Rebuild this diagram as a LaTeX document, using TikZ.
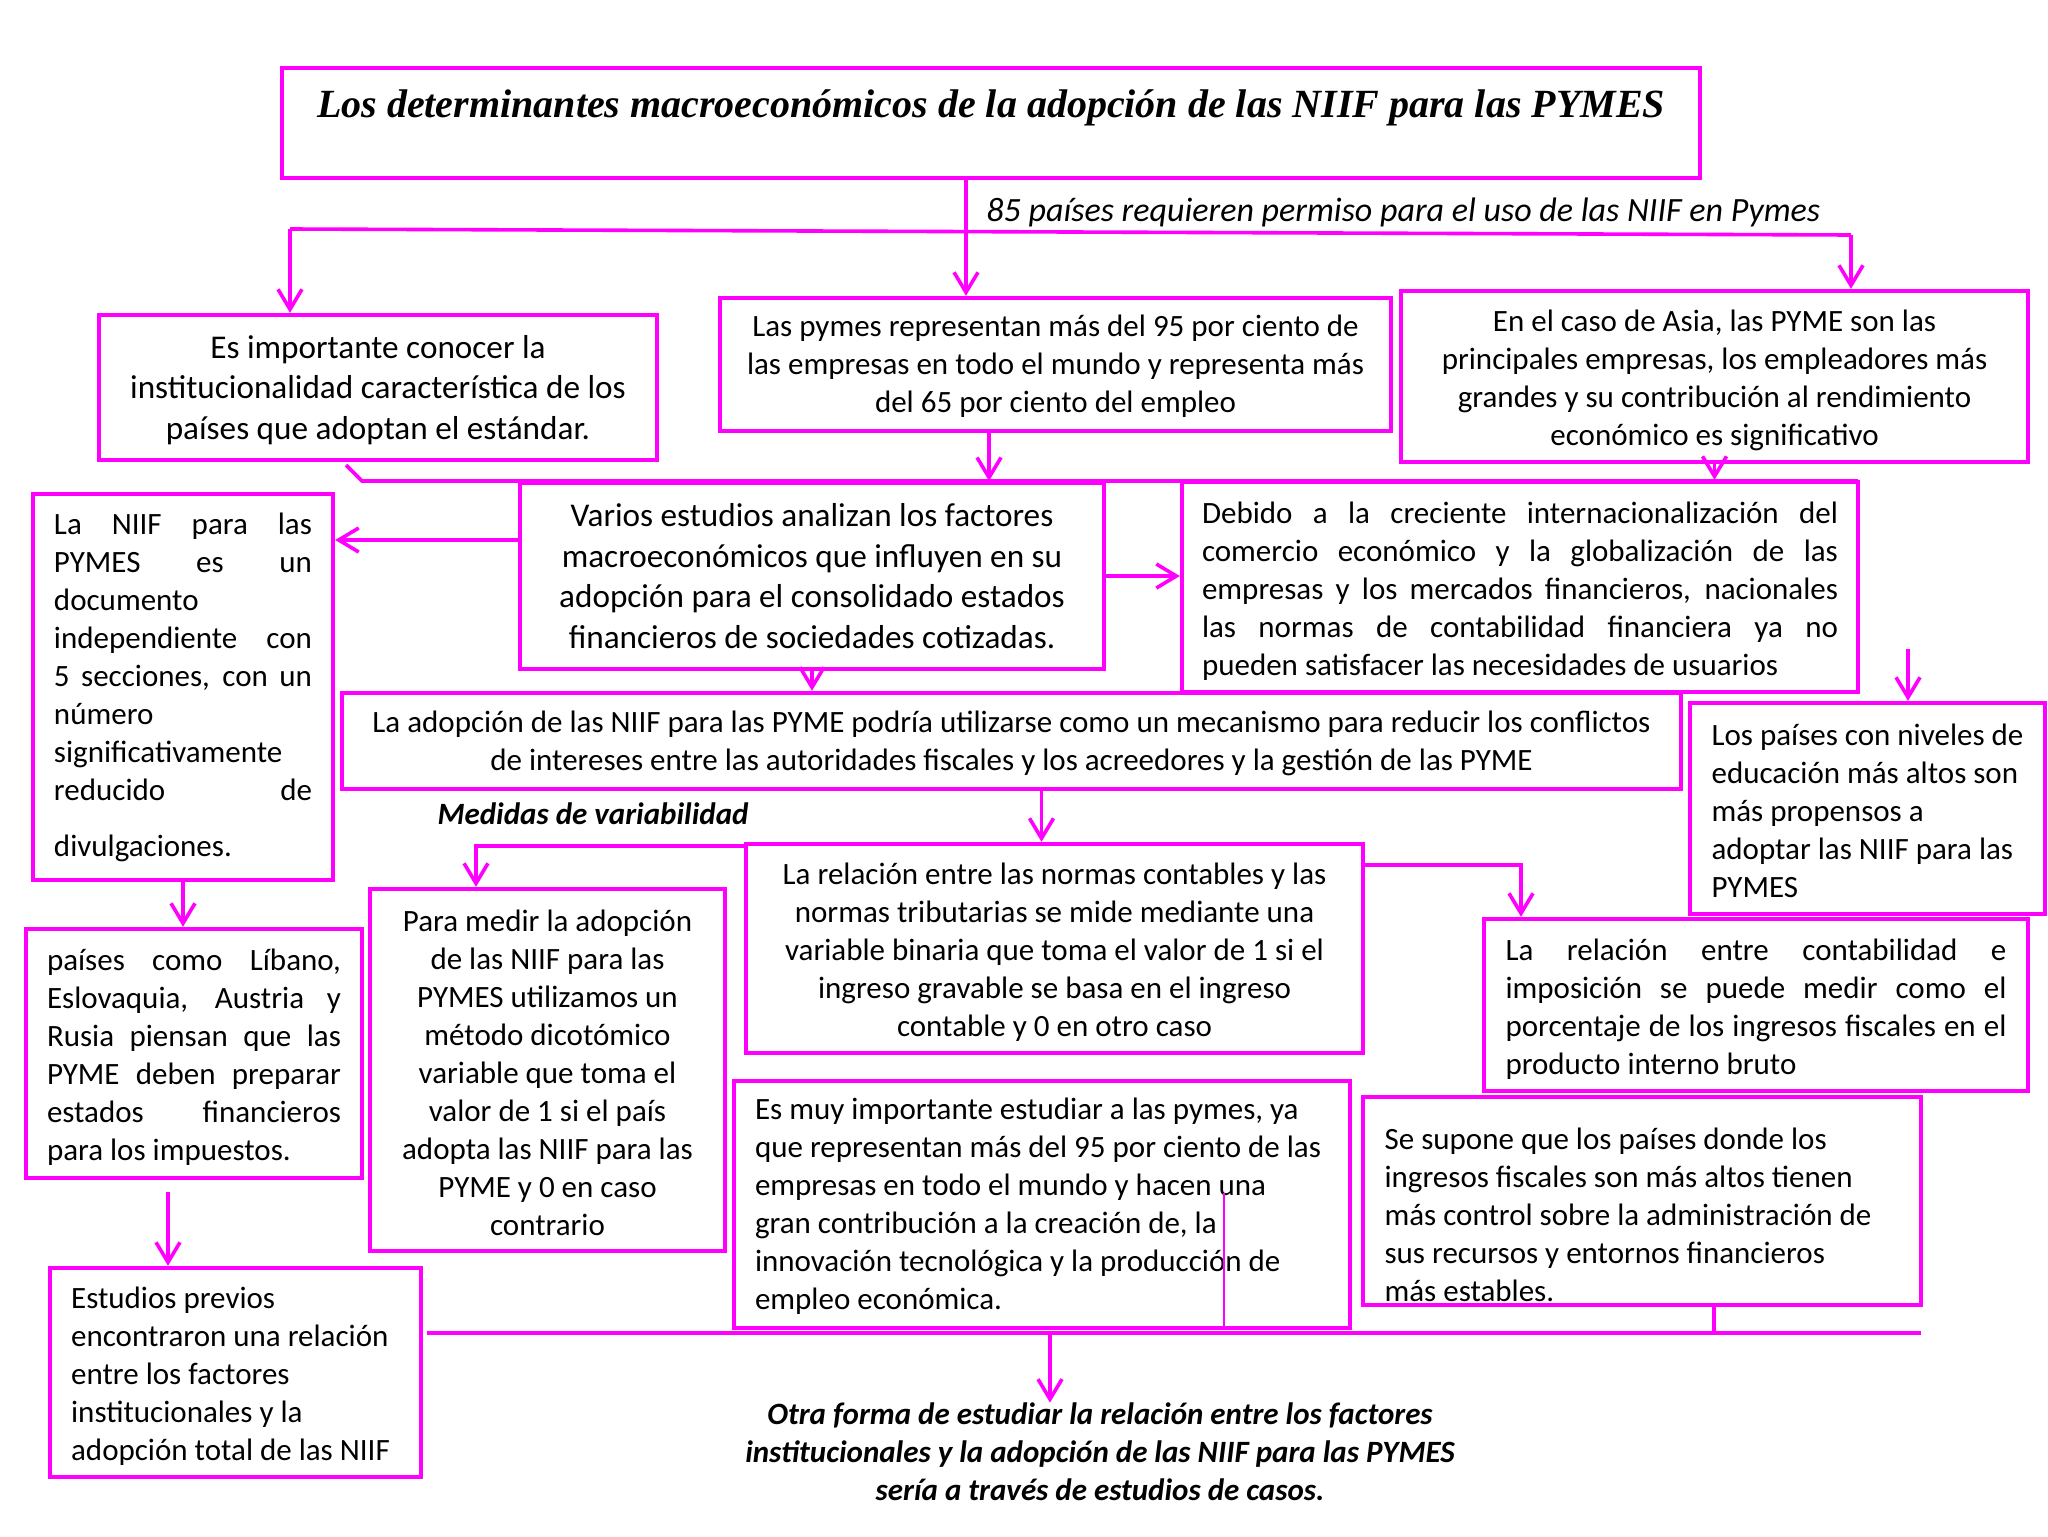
\documentclass[tikz,border=0pt]{standalone}
\usepackage{fontspec}
\setmainfont{Carlito}
\newfontfamily\timesf{Liberation Serif}
\usetikzlibrary{arrows.meta}
\definecolor{mag}{RGB}{255,0,255}
\newcommand\jl[2]{\hbox to #1{#2}}
\setlength{\parindent}{0pt}
\begin{document}
\begin{tikzpicture}[x=0.5pt,y=-0.5pt,
  box/.style={draw=mag, line width=2.2pt, inner sep=0pt, font=\fontsize{15.5}{19}\selectfont, align=center},
  bigbox/.style={box, font=\fontsize{16.6}{20.2}\selectfont},
  lbox/.style={box, align=left},
  conn/.style={draw=mag, line width=1.8pt},
  arr/.style={conn, -{Straight Barb[length=10pt,width=12pt]}},
  thinline/.style={draw=mag, line width=1.2pt},
  txt/.style={inner sep=0pt, font=\fontsize{15.5}{19}\selectfont, align=center},
]
\useasboundingbox (0,0) rectangle (2048,1536);
\fill[white] (0,0) rectangle (2048,1536);

% ---------- boxes ----------
\node[box, minimum width=709pt, minimum height=55pt] (title) at (991,123) {};
\node[inner sep=0pt, font=\timesf\bfseries\itshape\fontsize{20}{24}\selectfont] (titletxt) at (991,108)
  {Los determinantes macroeconómicos de la adopción de las NIIF para las PYMES};

\node[bigbox, minimum width=279pt, minimum height=72.5pt] (b1) at (378,387.5)
  {\rule{0pt}{14pt}Es importante conocer la\\ institucionalidad característica de los\\ países que adoptan el estándar.};

\node[box, minimum width=335.5pt, minimum height=66.5pt] (b2) at (1055.5,364.5)
  {\rule{0pt}{12.5pt}Las pymes representan más del 95 por ciento de\\ las empresas en todo el mundo y representa más\\ del 65 por ciento del empleo};

\node[box, minimum width=313.5pt, minimum height=85.5pt] (b3) at (1714.5,376.5)
  {\rule{0pt}{15pt}En el caso de Asia, las PYME son las\\ principales empresas, los empleadores más\\ grandes y su contribución al rendimiento\\ económico es significativo};

\node[lbox, minimum width=150pt, minimum height=193pt] (niif) at (183,687)
  {\jl{129pt}{La\hfil NIIF\hfil para\hfil las}\\
   \jl{129pt}{PYMES\hfil es\hfil un}\\
   documento\\
   \jl{129pt}{independiente\hfil con}\\
   \jl{129pt}{5 secciones, con un}\\
   número\\
   significativamente\\
   \jl{129pt}{reducido\hfil de}\\[9pt]
   divulgaciones.};

\node[bigbox, minimum width=292pt, minimum height=93pt] (varios) at (812,576)
  {Varios estudios analizan los factores\\ macroeconómicos que influyen en su\\ adopción para el consolidado estados\\ financieros de sociedades cotizadas.};

\node[lbox, minimum width=338pt, minimum height=105pt] (debido) at (1520,587)
  {\rule{0pt}{15pt}\jl{318pt}{Debido a la creciente internacionalización del}\\
   \jl{318pt}{comercio económico y la globalización de las}\\
   \jl{318pt}{empresas y los mercados financieros, nacionales}\\
   \jl{318pt}{las normas de contabilidad financiera ya no}\\
   pueden satisfacer las necesidades de usuarios};

\node[box, minimum width=669.5pt, minimum height=48pt] (adop) at (1011.5,741)
  {\rule{0pt}{13pt}La adopción de las NIIF para las PYME podría utilizarse como un mecanismo para reducir los conflictos\\
   de intereses entre las autoridades fiscales y los acreedores y la gestión de las PYME};

\node[lbox, minimum width=177.5pt, minimum height=105.5pt] (edu) at (1867.5,808.5)
  {\rule{0pt}{13.5pt}Los países con niveles de\\ educación más altos son\\ más propensos a\\ adoptar las NIIF para las\\ PYMES};

\node[lbox, minimum width=168pt, minimum height=124.5pt] (libano) at (194,1053.5)
  {\rule{0pt}{14pt}\jl{147pt}{países como Líbano,}\\
   \jl{147pt}{Eslovaquia, Austria y}\\
   \jl{147pt}{Rusia piensan que las}\\
   \jl{147pt}{PYME deben preparar}\\
   \jl{147pt}{estados\hfil financieros}\\
   para los impuestos.};

\node[box, minimum width=177.5pt, minimum height=181pt] (medir) at (547.5,1070)
  {\rule{0pt}{13.5pt}Para medir la adopción\\ de las NIIF para las\\ PYMES utilizamos un\\ método dicotómico\\ variable que toma el\\ valor de 1 si el país\\ adopta las NIIF para las\\ PYME y 0 en caso\\ contrario};

\node[box, minimum width=308.5pt, minimum height=104.5pt] (normas) at (1054.5,948.5)
  {\rule{0pt}{14pt}La relación entre las normas contables y las\\ normas tributarias se mide mediante una\\ variable binaria que toma el valor de 1 si el\\ ingreso gravable se basa en el ingreso\\ contable y 0 en otro caso};

\node[lbox, minimum width=272pt, minimum height=86pt] (contab) at (1756,1005)
  {\rule{0pt}{15pt}\jl{250.5pt}{La relación entre contabilidad e}\\
   \jl{250.5pt}{imposición se puede medir como el}\\
   \jl{250.5pt}{porcentaje de los ingresos fiscales en el}\\
   producto interno bruto};

\node[lbox, minimum width=308pt, minimum height=123.5pt] (esmuy) at (1042,1204.5)
  {\rule{0pt}{12.5pt}Es muy importante estudiar a las pymes, ya\\ que representan más del 95 por ciento de las\rule{4pt}{0pt}\\ empresas en todo el mundo y hacen una\\ gran contribución a la creación de, la\\ innovación tecnológica y la producción de\\ empleo económica.};

\node[lbox, minimum width=279pt, minimum height=104pt] (supone) at (1642,1201)
  {\rule{0pt}{25pt}Se supone que los países donde los\\ ingresos fiscales son más altos tienen\\ más control sobre la administración de\rule{14pt}{0pt}\\ sus recursos y entornos financieros\\ más estables.};

\node[lbox, minimum width=185.5pt, minimum height=104.5pt] (estudios) at (235.5,1372.5)
  {\rule{0pt}{14pt}Estudios previos\\ encontraron una relación\rule{5pt}{0pt}\\ entre los factores\\ institucionales y la\\ adopción total de las NIIF\rule{5pt}{0pt}};

% ---------- free texts ----------
\node[txt, font=\itshape\fontsize{17}{20}\selectfont, anchor=west] (lab85) at (986,212)
  {85 países requieren permiso para el uso de las NIIF en Pymes};
\node[txt, font=\bfseries\itshape\fontsize{15.5}{19}\selectfont] (medidas) at (593,814)
  {Medidas de variabilidad};
\node[txt, font=\bfseries\itshape\fontsize{15.5}{19}\selectfont] (final) at (1100,1452)
  {Otra forma de estudiar la relación entre los factores\\ institucionales y la adopción de las NIIF para las PYMES\\ sería a través de estudios de casos.};

% ---------- connectors ----------
\coordinate (j0) at (966,231);
\coordinate (hl) at (290,229);
\coordinate (hr) at (1851,235);
\draw[conn] (title.south -| j0) -- (j0);
\draw[arr] (j0) -- (b2.north -| j0);
\draw[conn] (hl) -- (hr);
\draw[arr] (hl) -- (b1.north -| hl);
\draw[arr] (hr) -- (b3.north -| hr);

\coordinate (d0) at (346,465);
\coordinate (d1) at (362,481);
\coordinate (d2) at (1858,481);
\coordinate (m1) at (989,481);
\draw[conn] (d0) -- (d1) -- (d2);
\draw[arr] (b2.south -| m1) -- (m1);
\draw[arr] (b3.south) -- (b3.south |- debido.north);

\draw[arr] ([yshift=18pt]varios.west) -- ([yshift=18pt]varios.west -| niif.east);
\draw[arr] (varios.east) -- (varios.east -| debido.west);
\draw[arr] (varios.south) -- (varios.south |- adop.north);

\coordinate (c1) at (1908,649);
\draw[arr] (c1) -- (c1 |- edu.north);

\draw[arr] ([xshift=15pt]adop.south) -- ([xshift=15pt]adop.south |- normas.north);

\coordinate (k1) at (476,846);
\draw[arr] (normas.north west |- k1) -- (k1) -- (k1 |- medir.north);
\coordinate (k2) at (1521,865);
\draw[arr] (normas.east |- k2) -- (k2) -- (k2 |- contab.north);

\draw[arr] (niif.south) -- (niif.south |- libano.north);
\coordinate (c2) at (168,1192);
\draw[arr] (c2) -- (c2 |- estudios.north);

\coordinate (bl) at (427,1333);
\coordinate (br) at (1921,1333);
\coordinate (b0) at (1050,1333);
\draw[conn] (bl) -- (br);
\draw[conn] ([xshift=36pt]supone.south) -- ([xshift=36pt]supone.south |- br);
\draw[arr] (b0) -- (b0 |- final.north);

\coordinate (s0) at (1224,1193);
\draw[thinline] (s0) -- (s0 |- esmuy.south);
\end{tikzpicture}
\end{document}
